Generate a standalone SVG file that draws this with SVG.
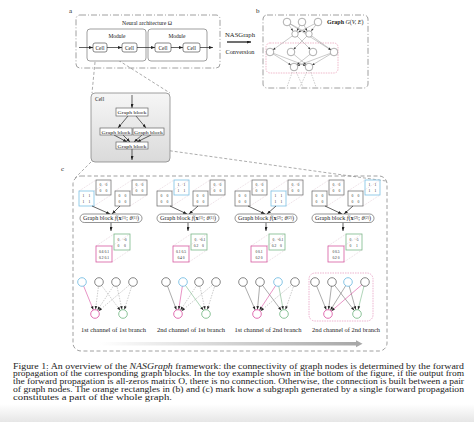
<svg xmlns="http://www.w3.org/2000/svg" width="474" height="422" viewBox="0 0 474 422">
<style>
text{font-family:"Liberation Serif","Times New Roman",serif;fill:#222}
.lab{font-size:7px}
.sm{font-size:5.5px}
.tiny{font-size:3.6px;text-anchor:middle}
.box{fill:#fff;stroke:#777;stroke-width:0.7}
.cellb{fill:#fff;stroke:#555;stroke-width:0.7}
.dd{fill:none;stroke:#888;stroke-width:0.8;stroke-dasharray:6,2,1,2}
.dash{fill:none;stroke:#888;stroke-width:0.7;stroke-dasharray:3,2}
.ar{stroke:#222;stroke-width:0.7;fill:none}
.mat{fill:#fff;stroke:#666;stroke-width:0.7}
.matb{fill:#fff;stroke:#7cc0e4;stroke-width:0.8}
.matp{fill:#fff;stroke:#d65aa0;stroke-width:0.8}
.matg{fill:#fff;stroke:#7ab889;stroke-width:0.8}
.persp{stroke:#c9a7b8;stroke-width:0.4;stroke-dasharray:1,1;fill:none}
.node{fill:#fff;stroke:#555;stroke-width:0.7}
.bn{fill:#fff;stroke:#777;stroke-width:0.6}
.nb{fill:#fff;stroke:#6ab7e0;stroke-width:0.8}
.np{fill:#fff;stroke:#d94d9f;stroke-width:0.8}
.ng{fill:#fff;stroke:#6fb57f;stroke-width:0.8}
.ed{stroke:#666;stroke-width:0.55;fill:none}
.eb{stroke:#888;stroke-width:0.45;fill:none}
.ep{stroke:#d94d9f;stroke-width:0.6;fill:none}
.eg{stroke:#7ab889;stroke-width:0.6;fill:none}
.ex{stroke:#999;stroke-width:0.5;stroke-dasharray:1.5,1.2;fill:none}
.gb{fill:#fff;stroke:#666;stroke-width:0.7}
.cap{font-size:8px}
</style>
<defs>
<marker id="arr" viewBox="0 0 4 3" refX="4" refY="1.5" markerWidth="4" markerHeight="3" markerUnits="userSpaceOnUse" orient="auto"><path d="M0,0L4,1.5L0,3z" fill="#222"/></marker>
<marker id="ah" viewBox="0 0 3.5 2.6" refX="8" refY="1.3" markerWidth="3.5" markerHeight="2.6" markerUnits="userSpaceOnUse" orient="auto" overflow="visible"><path d="M0,0L3.5,1.3L0,2.6z" fill="#222"/></marker>
<marker id="ahb" viewBox="0 0 2.6 2" refX="6.2" refY="1" markerWidth="2.6" markerHeight="2" markerUnits="userSpaceOnUse" orient="auto" overflow="visible"><path d="M0,0L2.6,1L0,2z" fill="#333"/></marker>
<linearGradient id="cellg" x1="0" y1="0" x2="0" y2="1"><stop offset="0" stop-color="#f6f6f6"/><stop offset="1" stop-color="#dadada"/></linearGradient>
<linearGradient id="barg" x1="0" y1="0" x2="1" y2="0"><stop offset="0" stop-color="#ffffff"/><stop offset="1" stop-color="#a8a8a8"/></linearGradient>
<linearGradient id="botg" x1="0" y1="0" x2="0" y2="1"><stop offset="0" stop-color="#ffffff"/><stop offset="1" stop-color="#e6e6e6"/></linearGradient>
</defs>
<rect width="474" height="422" fill="#fff"/>
<rect x="0" y="404" width="474" height="18" fill="url(#botg)"/>

<!-- connectors (zoom lines) -->
<g id="connectors">
<line class="dash" x1="96" y1="52" x2="92" y2="93"/>
<line class="dash" x1="110" y1="55" x2="170" y2="93"/>
<line class="dash" x1="91" y1="162" x2="75" y2="178"/>
<line class="dash" x1="150" y1="148" x2="386" y2="181"/>
</g>

<!-- panel a -->
<g id="panel-a">
<text class="lab" x="69" y="13">a</text>
<rect class="dd" x="76" y="15" width="144" height="53" rx="4"/>
<text class="sm" x="147" y="25" text-anchor="middle" textLength="50" lengthAdjust="spacingAndGlyphs">Neural architecture Ω</text>
<g id="module1"><rect class="box" x="87" y="29" width="59" height="32" rx="3"/><text class="sm" x="117" y="38" text-anchor="middle">Module</text></g>
<g id="module2"><rect class="box" x="148" y="29" width="59" height="32" rx="3"/><text class="sm" x="177" y="38" text-anchor="middle">Module</text></g>
<g id="cell1"><rect class="cellb" x="93" y="43" width="14" height="9" rx="2"/><text class="sm" x="100" y="49.5" text-anchor="middle">Cell</text></g>
<g id="cell2"><rect class="cellb" x="122" y="43" width="15" height="9" rx="2"/><text class="sm" x="129.5" y="49.5" text-anchor="middle">Cell</text></g>
<g id="cell3"><rect class="cellb" x="155" y="43" width="16" height="9" rx="2"/><text class="sm" x="163" y="49.5" text-anchor="middle">Cell</text></g>
<g id="cell4"><rect class="cellb" x="183" y="43" width="17" height="9" rx="2"/><text class="sm" x="191.5" y="49.5" text-anchor="middle">Cell</text></g>
<g class="ar" marker-end="url(#arr)">
<line x1="79" y1="47.5" x2="93" y2="47.5"/>
<line x1="107" y1="47.5" x2="122" y2="47.5"/>
<line x1="137" y1="47.5" x2="155" y2="47.5"/>
<line x1="171" y1="47.5" x2="183" y2="47.5"/>
<line x1="200" y1="47.5" x2="213" y2="47.5"/>
</g>
<g id="conversion">
<text class="lab" x="240" y="37" text-anchor="middle" textLength="30" lengthAdjust="spacingAndGlyphs">NASGraph</text>
<line x1="227" y1="42" x2="251" y2="42" stroke="#222" stroke-width="1.3" marker-end="url(#arr)"/>
<text class="lab" x="240" y="54" text-anchor="middle" textLength="29" lengthAdjust="spacingAndGlyphs">Conversion</text>
</g>
</g>

<!-- panel b -->
<g id="panel-b">
<text class="lab" x="256" y="13">b</text>
<rect class="dd" x="263" y="15" width="105" height="73" rx="4"/>
<text x="327" y="24" style="font-size:6px"><tspan font-weight="bold">Graph</tspan> <tspan font-style="italic">G</tspan>(<tspan font-style="italic">V, E</tspan>)</text>
<rect x="266" y="43" width="72" height="30" rx="4" fill="none" stroke="#e58aa8" stroke-width="0.6" stroke-dasharray="1.5,1"/>
<g class="eb" marker-end="url(#ahb)">
<line x1="287" y1="22" x2="295" y2="34"/><line x1="302" y1="22" x2="295" y2="34"/><line x1="318" y1="22" x2="295" y2="34"/>
<line x1="287" y1="22" x2="309" y2="34"/><line x1="302" y1="22" x2="309" y2="34"/><line x1="318" y1="22" x2="309" y2="34"/>
<line x1="295" y1="34" x2="270" y2="52"/><line x1="295" y1="34" x2="313" y2="52"/>
<line x1="309" y1="34" x2="291" y2="52"/><line x1="309" y1="34" x2="334" y2="52"/>
<line x1="287" y1="22" x2="334" y2="52"/>
<line x1="270" y1="52" x2="294" y2="67"/><line x1="270" y1="52" x2="309" y2="67"/>
<line x1="291" y1="52" x2="309" y2="67"/><line x1="313" y1="52" x2="294" y2="67"/>
<line x1="334" y1="52" x2="294" y2="67"/><line x1="334" y1="52" x2="309" y2="67"/>
</g>
<g class="ex">
<line x1="294" y1="67" x2="287" y2="87"/><line x1="294" y1="67" x2="303" y2="87"/>
<line x1="309" y1="67" x2="300" y2="87"/><line x1="309" y1="67" x2="316" y2="87"/>
</g>
<g id="b-nodes" class="bn">
<circle cx="287" cy="22" r="3.8"/><circle cx="302" cy="22" r="3.8"/><circle cx="318" cy="22" r="3.8"/>
<circle cx="295" cy="34" r="3.2"/><circle cx="309" cy="34" r="3.2"/>
<circle cx="270" cy="52" r="3.8"/><circle cx="291" cy="52" r="3.8"/><circle cx="313" cy="52" r="3.8"/><circle cx="334" cy="52" r="3.8"/>
<circle cx="294" cy="67" r="3.8"/><circle cx="309" cy="67" r="3.8"/>
</g>
</g>

<!-- Cell detail -->
<g id="cell-detail">
<rect x="91" y="93" width="79" height="69" rx="4" fill="url(#cellg)" stroke="#888" stroke-width="0.8"/>
<text class="sm" x="95" y="101">Cell</text>
<g class="ar" marker-end="url(#arr)">
<line x1="132" y1="95" x2="132" y2="108"/>
<line x1="128" y1="116" x2="118" y2="128"/>
<line x1="136" y1="116" x2="146" y2="128"/>
<line x1="114" y1="135" x2="127" y2="142"/>
<line x1="123" y1="135" x2="130" y2="142"/>
<line x1="142" y1="135" x2="134" y2="142"/>
<line x1="151" y1="135" x2="137" y2="142"/>
<line x1="132" y1="149" x2="132" y2="160"/>
</g>
<g id="gblock1"><rect class="gb" x="116" y="108" width="32" height="8"/><text x="132" y="114" style="font-size:5px" text-anchor="middle" textLength="29" lengthAdjust="spacingAndGlyphs">Graph block</text></g>
<g id="gblock2"><rect class="gb" x="100" y="128" width="32" height="7"/><text x="116" y="133.6" style="font-size:5px" text-anchor="middle" textLength="29" lengthAdjust="spacingAndGlyphs">Graph block</text></g>
<g id="gblock3"><rect class="gb" x="133" y="128" width="31" height="7"/><text x="148.5" y="133.6" style="font-size:5px" text-anchor="middle" textLength="29" lengthAdjust="spacingAndGlyphs">Graph block</text></g>
<g id="gblock4"><rect class="gb" x="116" y="142" width="32" height="7"/><text x="132" y="147.6" style="font-size:5px" text-anchor="middle" textLength="29" lengthAdjust="spacingAndGlyphs">Graph block</text></g>
</g>

<!-- panel c -->
<g id="panel-c">
<text class="lab" x="61" y="171">c</text>
<rect x="73" y="176" width="314" height="175" rx="8" fill="none" stroke="#888" stroke-width="0.8" stroke-dasharray="4,2.5"/>
<rect x="100" y="342" width="256" height="3.5" fill="url(#barg)"/>
<path d="M356,340.3L362.5,343.75L356,347.2z" fill="#a8a8a8"/>
<rect x="309" y="273" width="64" height="48" rx="6" fill="none" stroke="#e07fb0" stroke-width="0.6" stroke-dasharray="1.5,1"/>
</g>

<!-- column 1 -->
<g id="col1">
<rect class="mat" x="96" y="180" width="15" height="15"/><text class="tiny" x="100.5" y="186">0</text><text class="tiny" x="106.5" y="186">0</text><text class="tiny" x="100.5" y="192">0</text><text class="tiny" x="106.5" y="192">0</text>
<rect class="mat" x="132" y="180" width="15" height="15"/><text class="tiny" x="136.5" y="186">0</text><text class="tiny" x="142.5" y="186">0</text><text class="tiny" x="136.5" y="192">0</text><text class="tiny" x="142.5" y="192">0</text>
<path class="persp" d="M79,191L96,180M94,191L111,180M94,206L111,195M115,191L132,180M130,191L147,180M130,206L147,195"/>
<rect class="matb" x="79" y="191" width="15" height="15"/><text class="tiny" x="83.5" y="197" fill="#5aaad6">1</text><text class="tiny" x="89.5" y="197" fill="#5aaad6">1</text><text class="tiny" x="83.5" y="203" fill="#5aaad6">1</text><text class="tiny" x="89.5" y="203" fill="#5aaad6">1</text>
<rect class="mat" x="115" y="191" width="15" height="15"/><text class="tiny" x="119.5" y="197">0</text><text class="tiny" x="125.5" y="197">0</text><text class="tiny" x="119.5" y="203">0</text><text class="tiny" x="125.5" y="203">0</text>
<g class="ar" marker-end="url(#arr)"><line x1="92" y1="206" x2="110" y2="214"/><line x1="120" y1="206" x2="112" y2="214"/><line x1="111" y1="222.5" x2="111" y2="231"/></g>
<rect class="gb" x="80" y="214" width="62" height="8.5" rx="4.25"/>
<text x="111" y="220.3" style="font-size:5.5px" text-anchor="middle" textLength="56" lengthAdjust="spacingAndGlyphs">Graph block <tspan font-style="italic">f</tspan>(<tspan font-weight="bold">x</tspan><tspan dy="-1.5" style="font-size:3.5px">(1)</tspan><tspan dy="1.5">; </tspan><tspan font-style="italic">θ</tspan><tspan dy="-1.5" style="font-size:3.5px">(1)</tspan><tspan dy="1.5">)</tspan></text>
<rect class="matg" x="114" y="234" width="16" height="16"/><text class="tiny" x="118.5" y="240.5">0</text><text class="tiny" x="125" y="240.5">-0</text><text class="tiny" x="118.5" y="246.5">0</text><text class="tiny" x="125" y="246.5">0</text>
<path class="persp" d="M96,246L114,234M112,246L130,234M112,262L130,250"/>
<rect class="matp" x="96" y="246" width="16" height="16"/><text class="tiny" x="104" y="252.5" fill="#c03c88">0.6 0.1</text><text class="tiny" x="104" y="258.5" fill="#c03c88">0.2 0.1</text>
<path class="ep" d="M82,282L95,314" marker-end="url(#ah)"/>
<g class="ex" marker-end="url(#ah)"><path d="M99,282L95,314"/><path d="M99,282L123,314"/><path d="M116,282L95,314"/><path d="M116,282L123,314"/><path d="M133,282L95,314"/><path d="M133,282L123,314"/></g>
<circle class="nb" cx="82" cy="282" r="4.3"/><circle class="node" cx="99" cy="282" r="4.3"/><circle class="node" cx="116" cy="282" r="4.3"/><circle class="node" cx="133" cy="282" r="4.3"/>
<circle class="np" cx="95" cy="314" r="4.3"/><circle class="ng" cx="123" cy="314" r="4.3"/>
<text x="113.5" y="332" style="font-size:6.5px" text-anchor="middle" textLength="65" lengthAdjust="spacingAndGlyphs">1st channel of 1st branch</text>
</g>

<!-- column 2 -->
<g id="col2">
<rect class="matb" x="174" y="180" width="15" height="15"/><text class="tiny" x="178.5" y="186" fill="#5aaad6">1</text><text class="tiny" x="184.5" y="186" fill="#5aaad6">1</text><text class="tiny" x="178.5" y="192" fill="#5aaad6">1</text><text class="tiny" x="184.5" y="192" fill="#5aaad6">1</text>
<rect class="mat" x="210" y="180" width="15" height="15"/><text class="tiny" x="214.5" y="186">0</text><text class="tiny" x="220.5" y="186">0</text><text class="tiny" x="214.5" y="192">0</text><text class="tiny" x="220.5" y="192">0</text>
<path class="persp" d="M157,191L174,180M172,191L189,180M172,206L189,195M193,191L210,180M208,191L225,180M208,206L225,195"/>
<rect class="mat" x="157" y="191" width="15" height="15"/><text class="tiny" x="161.5" y="197">0</text><text class="tiny" x="167.5" y="197">0</text><text class="tiny" x="161.5" y="203">0</text><text class="tiny" x="167.5" y="203">0</text>
<rect class="mat" x="193" y="191" width="15" height="15"/><text class="tiny" x="197.5" y="197">0</text><text class="tiny" x="203.5" y="197">0</text><text class="tiny" x="197.5" y="203">0</text><text class="tiny" x="203.5" y="203">0</text>
<g class="ar" marker-end="url(#arr)"><line x1="170" y1="206" x2="187" y2="214"/><line x1="198" y1="206" x2="189" y2="214"/><line x1="188" y1="222.5" x2="188" y2="231"/></g>
<rect class="gb" x="157" y="214" width="62" height="8.5" rx="4.25"/>
<text x="188" y="220.3" style="font-size:5.5px" text-anchor="middle" textLength="56" lengthAdjust="spacingAndGlyphs">Graph block <tspan font-style="italic">f</tspan>(<tspan font-weight="bold">x</tspan><tspan dy="-1.5" style="font-size:3.5px">(1)</tspan><tspan dy="1.5">; </tspan><tspan font-style="italic">θ</tspan><tspan dy="-1.5" style="font-size:3.5px">(1)</tspan><tspan dy="1.5">)</tspan></text>
<rect class="matg" x="191" y="234" width="16" height="16"/><text class="tiny" x="195.5" y="240.5">0</text><text class="tiny" x="202.5" y="240.5">-0.1</text><text class="tiny" x="196" y="246.5">0.2</text><text class="tiny" x="203" y="246.5">0</text>
<path class="persp" d="M173,246L191,234M189,246L207,234M189,262L207,250"/>
<rect class="matp" x="173" y="246" width="16" height="16"/><text class="tiny" x="181" y="252.5" fill="#c03c88">0.1 0.5</text><text class="tiny" x="181" y="258.5" fill="#c03c88">0.4  0</text>
<path class="ed" d="M166,282L178,314" marker-end="url(#ah)"/>
<path class="ep" d="M183,282L178,314" marker-end="url(#ah)"/>
<path class="eg" d="M183,282L206,314" marker-end="url(#ah)"/>
<g class="ex" marker-end="url(#ah)"><path d="M199,282L178,314"/><path d="M199,282L206,314"/><path d="M216,282L178,314"/><path d="M216,282L206,314"/></g>
<circle class="node" cx="166" cy="282" r="4.3"/><circle class="nb" cx="183" cy="282" r="4.3"/><circle class="node" cx="199" cy="282" r="4.3"/><circle class="node" cx="216" cy="282" r="4.3"/>
<circle class="np" cx="178" cy="314" r="4.3"/><circle class="ng" cx="206" cy="314" r="4.3"/>
<text x="191" y="332" style="font-size:6.5px" text-anchor="middle" textLength="68" lengthAdjust="spacingAndGlyphs">2nd channel of 1st branch</text>
</g>

<!-- column 3 -->
<g id="col3">
<rect class="mat" x="252" y="180" width="15" height="15"/><text class="tiny" x="256.5" y="186">0</text><text class="tiny" x="262.5" y="186">0</text><text class="tiny" x="256.5" y="192">0</text><text class="tiny" x="262.5" y="192">0</text>
<rect class="mat" x="288" y="180" width="15" height="15"/><text class="tiny" x="292.5" y="186">0</text><text class="tiny" x="298.5" y="186">0</text><text class="tiny" x="292.5" y="192">0</text><text class="tiny" x="298.5" y="192">0</text>
<path class="persp" d="M235,191L252,180M250,191L267,180M250,206L267,195M271,191L288,180M286,191L303,180M286,206L303,195"/>
<rect class="mat" x="235" y="191" width="15" height="15"/><text class="tiny" x="239.5" y="197">0</text><text class="tiny" x="245.5" y="197">0</text><text class="tiny" x="239.5" y="203">0</text><text class="tiny" x="245.5" y="203">0</text>
<rect class="matb" x="271" y="191" width="15" height="15"/><text class="tiny" x="275.5" y="197" fill="#5aaad6">1</text><text class="tiny" x="281.5" y="197" fill="#5aaad6">1</text><text class="tiny" x="275.5" y="203" fill="#5aaad6">1</text><text class="tiny" x="281.5" y="203" fill="#5aaad6">1</text>
<g class="ar" marker-end="url(#arr)"><line x1="248" y1="206" x2="265" y2="214"/><line x1="276" y1="206" x2="267" y2="214"/><line x1="266" y1="222.5" x2="266" y2="231"/></g>
<rect class="gb" x="235" y="214" width="62" height="8.5" rx="4.25"/>
<text x="266" y="220.3" style="font-size:5.5px" text-anchor="middle" textLength="56" lengthAdjust="spacingAndGlyphs">Graph block <tspan font-style="italic">f</tspan>(<tspan font-weight="bold">x</tspan><tspan dy="-1.5" style="font-size:3.5px">(2)</tspan><tspan dy="1.5">; </tspan><tspan font-style="italic">θ</tspan><tspan dy="-1.5" style="font-size:3.5px">(2)</tspan><tspan dy="1.5">)</tspan></text>
<rect class="matg" x="269" y="234" width="16" height="16"/><text class="tiny" x="273.5" y="240.5">0</text><text class="tiny" x="280.5" y="240.5">-0.1</text><text class="tiny" x="274" y="246.5">0.2</text><text class="tiny" x="281" y="246.5">0</text>
<path class="persp" d="M251,246L269,234M267,246L285,234M267,262L285,250"/>
<rect class="matp" x="251" y="246" width="16" height="16"/><text class="tiny" x="259" y="252.5" fill="#c03c88">0   0.1</text><text class="tiny" x="259" y="258.5" fill="#c03c88">0.2   0</text>
<g class="ed" marker-end="url(#ah)"><path d="M243,282L257,314"/><path d="M260,282L257,314"/><path d="M260,282L284,314"/></g>
<path class="ep" d="M278,282L257,314" marker-end="url(#ah)"/>
<path class="eg" d="M278,282L284,314" marker-end="url(#ah)"/>
<g class="ex" marker-end="url(#ah)"><path d="M295,282L257,314"/><path d="M295,282L284,314"/></g>
<circle class="node" cx="243" cy="282" r="4.3"/><circle class="node" cx="260" cy="282" r="4.3"/><circle class="nb" cx="278" cy="282" r="4.3"/><circle class="node" cx="295" cy="282" r="4.3"/>
<circle class="np" cx="257" cy="314" r="4.3"/><circle class="ng" cx="284" cy="314" r="4.3"/>
<text x="268" y="332" style="font-size:6.5px" text-anchor="middle" textLength="67" lengthAdjust="spacingAndGlyphs">1st channel of 2nd branch</text>
</g>

<!-- column 4 -->
<g id="col4">
<rect class="mat" x="329" y="180" width="15" height="15"/><text class="tiny" x="333.5" y="186">0</text><text class="tiny" x="339.5" y="186">0</text><text class="tiny" x="333.5" y="192">0</text><text class="tiny" x="339.5" y="192">0</text>
<rect class="matb" x="365" y="180" width="15" height="15"/><text class="tiny" x="369.5" y="186" fill="#5aaad6">1</text><text class="tiny" x="375.5" y="186" fill="#5aaad6">1</text><text class="tiny" x="369.5" y="192" fill="#5aaad6">1</text><text class="tiny" x="375.5" y="192" fill="#5aaad6">1</text>
<path class="persp" d="M312,191L329,180M327,191L344,180M327,206L344,195M348,191L365,180M363,191L380,180M363,206L380,195"/>
<rect class="mat" x="312" y="191" width="15" height="15"/><text class="tiny" x="316.5" y="197">0</text><text class="tiny" x="322.5" y="197">0</text><text class="tiny" x="316.5" y="203">0</text><text class="tiny" x="322.5" y="203">0</text>
<rect class="mat" x="348" y="191" width="15" height="15"/><text class="tiny" x="352.5" y="197">0</text><text class="tiny" x="358.5" y="197">0</text><text class="tiny" x="352.5" y="203">0</text><text class="tiny" x="358.5" y="203">0</text>
<g class="ar" marker-end="url(#arr)"><line x1="325" y1="206" x2="342" y2="214"/><line x1="353" y1="206" x2="344" y2="214"/><line x1="343" y1="222.5" x2="343" y2="231"/></g>
<rect class="gb" x="312" y="214" width="62" height="8.5" rx="4.25"/>
<text x="343" y="220.3" style="font-size:5.5px" text-anchor="middle" textLength="56" lengthAdjust="spacingAndGlyphs">Graph block <tspan font-style="italic">f</tspan>(<tspan font-weight="bold">x</tspan><tspan dy="-1.5" style="font-size:3.5px">(2)</tspan><tspan dy="1.5">; </tspan><tspan font-style="italic">θ</tspan><tspan dy="-1.5" style="font-size:3.5px">(2)</tspan><tspan dy="1.5">)</tspan></text>
<rect class="matg" x="346" y="234" width="16" height="16"/><text class="tiny" x="350.5" y="240.5">0</text><text class="tiny" x="357" y="240.5">-5</text><text class="tiny" x="350.5" y="246.5">0</text><text class="tiny" x="357" y="246.5">1</text>
<path class="persp" d="M328,246L346,234M344,246L362,234M344,262L362,250"/>
<rect class="matp" x="328" y="246" width="16" height="16"/><text class="tiny" x="336" y="252.5" fill="#c03c88">0   0.5</text><text class="tiny" x="336" y="258.5" fill="#c03c88">0.2   0</text>
<g class="ed" marker-end="url(#ah)"><path d="M315,282L328,314"/><path d="M332,282L328,314"/><path d="M332,282L357,314"/><path d="M348,282L328,314"/><path d="M348,282L357,314"/></g>
<path class="ep" d="M365,282L328,314" marker-end="url(#ah)"/>
<path class="eg" d="M365,282L357,314" marker-end="url(#ah)"/>
<circle class="node" cx="315" cy="282" r="4.3"/><circle class="node" cx="332" cy="282" r="4.3"/><circle class="nb" cx="348" cy="282" r="4.3"/><circle class="node" cx="365" cy="282" r="4.3"/>
<circle class="np" cx="328" cy="314" r="4.3"/><circle class="ng" cx="357" cy="314" r="4.3"/>
<text x="346" y="332" style="font-size:6.5px" text-anchor="middle" textLength="68" lengthAdjust="spacingAndGlyphs">2nd channel of 2nd branch</text>
</g>

<!-- caption -->
<g id="caption">
<text class="cap" x="13" y="368.5" textLength="451" lengthAdjust="spacingAndGlyphs">Figure 1: An overview of the <tspan font-style="italic">NASGraph</tspan> framework: the connectivity of graph nodes is determined by the forward</text>
<text class="cap" x="13" y="376.3" textLength="451" lengthAdjust="spacingAndGlyphs">propagation of the corresponding graph blocks. In the toy example shown in the bottom of the figure, if the output from</text>
<text class="cap" x="13" y="384" textLength="451" lengthAdjust="spacingAndGlyphs">the forward propagation is all-zeros matrix O, there is no connection. Otherwise, the connection is built between a pair</text>
<text class="cap" x="13" y="391.8" textLength="451" lengthAdjust="spacingAndGlyphs">of graph nodes. The orange rectangles in (b) and (c) mark how a subgraph generated by a single forward propagation</text>
<text class="cap" x="13" y="399.6" textLength="159" lengthAdjust="spacingAndGlyphs">constitutes a part of the whole graph.</text>
</g>
</svg>
